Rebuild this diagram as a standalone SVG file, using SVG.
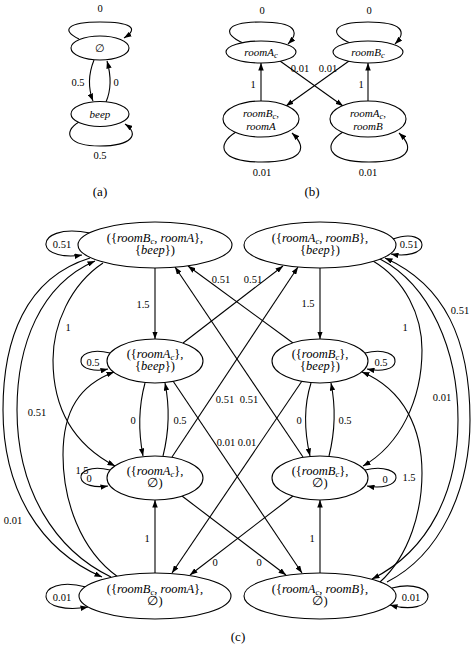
<svg xmlns="http://www.w3.org/2000/svg" width="474" height="647" viewBox="0 0 474 647">
<style>
text{font-family:"Liberation Serif","DejaVu Serif",serif;fill:#000}
.n{font-size:12.5px;text-anchor:middle}
.s{font-size:11px;text-anchor:middle}
.l{font-size:10.5px;text-anchor:middle}
.cap{font-size:13px;text-anchor:middle}
.i{font-style:italic}
.sub{font-size:8.5px;font-style:italic}
ellipse{fill:#fff;stroke:#000;stroke-width:1.1}
.e{fill:none;stroke:#000;stroke-width:1.1;marker-end:url(#ah)}
</style>
<defs>
<marker id="ah" viewBox="0 0 10 10" refX="10" refY="5" markerWidth="7.5" markerHeight="5.5" markerUnits="userSpaceOnUse" orient="auto" preserveAspectRatio="none"><path d="M0,0 L10,5 L0,10 z" fill="#000"/></marker>
</defs>

<g id="connectors">
<!-- (a) -->
<path class="e" d="M79,39 C60,30 68,22 100,22 C130,22 140,28 124,38"/>
<path class="e" d="M94,60 C88,75 88,88 93,101"/>
<path class="e" d="M106,102 C112,88 111,75 107,61"/>
<path class="e" d="M79,122 C62,132 68,146 100,146 C132,146 140,134 125,124"/>
<!-- (b) -->
<path class="e" d="M243,43 C222,34 224,22 261,22 C296,22 300,32 288,44"/>
<path class="e" d="M350,43 C329,34 331,22 368,22 C403,22 407,32 395,44"/>
<path class="e" d="M261,101 L261,63"/>
<path class="e" d="M368,101 L368,63"/>
<path class="e" d="M280,61 L343,106"/>
<path class="e" d="M349,61 L286,106"/>
<path class="e" d="M236,132 C215,145 220,162 262,162 C300,162 310,150 292,133"/>
<path class="e" d="M343,132 C322,145 327,162 369,162 C407,162 417,150 399,133"/>
<!-- (c) self loops -->
<path class="e" d="M90,233 C60,227 45,236 46,245 C47,254 65,258 82,255"/>
<path class="e" d="M393,239 C413,232 422,239 422,245 C422,253 406,257 391,254"/>
<path class="e" d="M110,353 C90,348 80,355 81,362 C82,369 95,372 108,369"/>
<path class="e" d="M365,353 C385,348 396,355 395,362 C394,369 382,372 367,369"/>
<path class="e" d="M110,470 C90,465 80,472 81,478 C82,485 95,488 108,486"/>
<path class="e" d="M365,470 C385,465 397,472 396,478 C395,485 382,489 367,486"/>
<path class="e" d="M86,587 C60,580 45,588 46,597 C47,606 65,611 88,607"/>
<path class="e" d="M392,588 C415,582 429,590 428,597 C427,606 412,611 390,605"/>
<!-- (c) verticals -->
<path class="e" d="M155,268 L155,339"/>
<path class="e" d="M320,268 L320,339"/>
<path class="e" d="M155,573 L155,500"/>
<path class="e" d="M320,573 L320,500"/>
<path class="e" d="M145,383 C139,405 138,430 143,456"/>
<path class="e" d="M163,456 C169,432 170,408 165,383"/>
<path class="e" d="M311,383 C304,405 304,430 310,456"/>
<path class="e" d="M329,456 C335,432 336,408 331,383"/>
<!-- (c) crossings -->
<path class="e" d="M183,343 L283,266"/>
<path class="e" d="M172,457 L298,267"/>
<path class="e" d="M293,343 L188,266"/>
<path class="e" d="M303,457 L175,267"/>
<path class="e" d="M173,381 L302,573"/>
<path class="e" d="M182,496 L286,575"/>
<path class="e" d="M302,381 L172,573"/>
<path class="e" d="M293,496 L190,575"/>
<!-- (c) outer left -->
<path class="e" d="M90,258 C25,278 3,340 3,410 C3,490 40,550 102,577"/>
<path class="e" d="M111,577 C55,550 17,490 17,410 C17,345 40,285 95,261"/>
<path class="e" d="M103,263 C70,285 53,325 53,360 C53,410 75,445 115,466"/>
<path class="e" d="M118,577 C80,550 63,500 63,455 C63,410 80,385 114,372"/>
<!-- (c) outer right -->
<path class="e" d="M373,261 C405,280 422,315 422,350 C422,400 400,445 363,466"/>
<path class="e" d="M380,259 C430,285 458,350 458,420 C458,490 430,550 372,579"/>
<path class="e" d="M387,582 C440,555 470,490 470,420 C470,340 445,285 385,258"/>
<path class="e" d="M380,582 C410,555 422,510 422,473 C422,430 405,390 362,372"/>

<g id="edge-labels">
<text class="l" x="100" y="12">0</text>
<text class="l" x="78" y="86">0.5</text>
<text class="l" x="116" y="86">0</text>
<text class="l" x="100" y="159">0.5</text>
<text class="l" x="262" y="14">0</text>
<text class="l" x="369" y="14">0</text>
<text class="l" x="300" y="72">0.01</text>
<text class="l" x="328" y="72">0.01</text>
<text class="l" x="253" y="88">1</text>
<text class="l" x="361" y="88">1</text>
<text class="l" x="262" y="176">0.01</text>
<text class="l" x="368" y="176">0.01</text>

<text class="l" x="62" y="248">0.51</text>
<text class="l" x="409" y="248">0.51</text>
<text class="l" x="143" y="308">1.5</text>
<text class="l" x="308" y="307">1.5</text>
<text class="l" x="221" y="283">0.51</text>
<text class="l" x="253" y="283">0.51</text>
<text class="l" x="225" y="403">0.51</text>
<text class="l" x="249" y="403">0.51</text>
<text class="l" x="226" y="446">0.01</text>
<text class="l" x="247" y="446">0.01</text>
<text class="l" x="215" y="566">0</text>
<text class="l" x="259" y="566">0</text>
<text class="l" x="93" y="366">0.5</text>
<text class="l" x="381" y="366">0.5</text>
<text class="l" x="89" y="482">0</text>
<text class="l" x="82" y="474">1.5</text>
<text class="l" x="385" y="483">0</text>
<text class="l" x="409" y="481">1.5</text>
<text class="l" x="133" y="424">0</text>
<text class="l" x="180" y="424">0.5</text>
<text class="l" x="299" y="424">0</text>
<text class="l" x="345" y="424">0.5</text>
<text class="l" x="147" y="542">1</text>
<text class="l" x="312" y="542">1</text>
<text class="l" x="62" y="601">0.01</text>
<text class="l" x="411" y="601">0.01</text>
<text class="l" x="68" y="331">1</text>
<text class="l" x="37" y="416">0.51</text>
<text class="l" x="13" y="524">0.01</text>
<text class="l" x="405" y="331">1</text>
<text class="l" x="460" y="314">0.51</text>
<text class="l" x="442" y="401">0.01</text>
</g>
</g>

<g id="a_empty"><ellipse cx="100" cy="48" rx="29" ry="12"/><text class="s" x="100" y="52">∅</text></g>
<g id="a_beep"><ellipse cx="100" cy="114" rx="29" ry="12.5"/><text class="s i" x="100" y="118">beep</text></g>

<g id="b_roomAc"><ellipse cx="261" cy="52" rx="35" ry="11"/><text class="s" x="261" y="56"><tspan class="i">roomA</tspan><tspan class="sub" dy="2">c</tspan></text></g>
<g id="b_roomBc"><ellipse cx="368" cy="52" rx="35" ry="11"/><text class="s" x="368" y="56"><tspan class="i">roomB</tspan><tspan class="sub" dy="2">c</tspan></text></g>
<g id="b_roomBc_roomA"><ellipse cx="261" cy="119" rx="38" ry="18"/><text class="s" x="261" y="117"><tspan class="i">roomB</tspan><tspan class="sub" dy="2">c</tspan><tspan dy="-2">,</tspan></text><text class="s i" x="261" y="130">roomA</text></g>
<g id="b_roomAc_roomB"><ellipse cx="368" cy="119" rx="38" ry="18"/><text class="s" x="368" y="117"><tspan class="i">roomA</tspan><tspan class="sub" dy="2">c</tspan><tspan dy="-2">,</tspan></text><text class="s i" x="368" y="130">roomB</text></g>

<g id="c_roomBc_roomA_beep"><ellipse cx="155" cy="245" rx="77" ry="23"/><text class="n" x="155" y="241.5">({<tspan class="i">roomB</tspan><tspan class="sub" dy="2">c</tspan><tspan dy="-2">, </tspan><tspan class="i">roomA</tspan>},</text><text class="n" x="155" y="254">{<tspan class="i">beep</tspan>})</text></g>
<g id="c_roomAc_roomB_beep"><ellipse cx="320" cy="245" rx="76" ry="23"/><text class="n" x="320" y="241.5">({<tspan class="i">roomA</tspan><tspan class="sub" dy="2">c</tspan><tspan dy="-2">, </tspan><tspan class="i">roomB</tspan>},</text><text class="n" x="320" y="254">{<tspan class="i">beep</tspan>})</text></g>
<g id="c_roomAc_beep"><ellipse cx="155" cy="361" rx="48" ry="22"/><text class="n" x="155" y="357.5">({<tspan class="i">roomA</tspan><tspan class="sub" dy="2">c</tspan><tspan dy="-2">},</tspan></text><text class="n" x="155" y="370">{<tspan class="i">beep</tspan>})</text></g>
<g id="c_roomBc_beep"><ellipse cx="320" cy="361" rx="48" ry="22"/><text class="n" x="320" y="357.5">({<tspan class="i">roomB</tspan><tspan class="sub" dy="2">c</tspan><tspan dy="-2">},</tspan></text><text class="n" x="320" y="370">{<tspan class="i">beep</tspan>})</text></g>
<g id="c_roomAc_empty"><ellipse cx="155" cy="478" rx="48" ry="22"/><text class="n" x="155" y="474.5">({<tspan class="i">roomA</tspan><tspan class="sub" dy="2">c</tspan><tspan dy="-2">},</tspan></text><text class="n" x="155" y="487">∅)</text></g>
<g id="c_roomBc_empty"><ellipse cx="320" cy="478" rx="48" ry="22"/><text class="n" x="320" y="474.5">({<tspan class="i">roomB</tspan><tspan class="sub" dy="2">c</tspan><tspan dy="-2">},</tspan></text><text class="n" x="320" y="487">∅)</text></g>
<g id="c_roomBc_roomA_empty"><ellipse cx="155" cy="596" rx="76" ry="23"/><text class="n" x="155" y="592.5">({<tspan class="i">roomB</tspan><tspan class="sub" dy="2">c</tspan><tspan dy="-2">, </tspan><tspan class="i">roomA</tspan>},</text><text class="n" x="155" y="605">∅)</text></g>
<g id="c_roomAc_roomB_empty"><ellipse cx="320" cy="596" rx="76" ry="23"/><text class="n" x="320" y="592.5">({<tspan class="i">roomA</tspan><tspan class="sub" dy="2">c</tspan><tspan dy="-2">, </tspan><tspan class="i">roomB</tspan>},</text><text class="n" x="320" y="605">∅)</text></g>

<g id="captions">
<text class="cap" x="100" y="196">(a)</text>
<text class="cap" x="312" y="196">(b)</text>
<text class="cap" x="238" y="641">(c)</text>
</g>
</svg>
